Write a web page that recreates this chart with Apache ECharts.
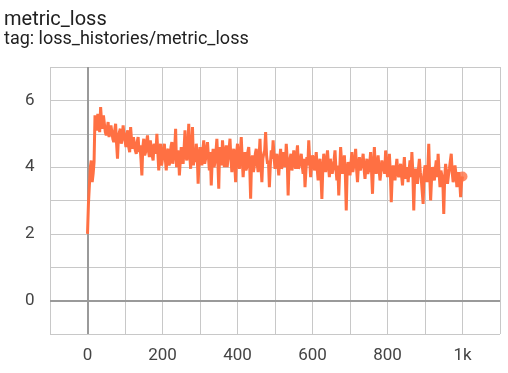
<!DOCTYPE html>
<html>
<head>
<meta charset="utf-8">
<script src="https://cdn.jsdelivr.net/npm/echarts@6/dist/echarts.min.js"></script>
<style>
html,body{margin:0;padding:0;background:#fff;}
#chart{width:508px;height:373px;}
</style>
</head>
<body>
<div id="chart"></div>
<script>
// Step spacing between recorded values
var stepSize = 5;
// Loss values at steps 0, 5, 10, ... 1000
var loss0 = [2.00, 3.45, 4.20, 3.80, 5.55, 5.10, 5.45, 5.80, 5.15, 5.50];
var loss1 = [4.95, 5.35, 4.85, 5.20, 4.75, 5.30, 4.25, 5.05, 4.70, 5.25,
             4.80, 5.00, 4.60, 5.20, 4.55, 4.95, 4.40, 4.90, 4.65, 3.75,
             4.85, 4.45, 4.95, 4.30, 4.75, 4.20, 4.60, 5.00, 3.90, 4.70, 4.25];
var loss2 = [4.70, 3.90, 4.55, 4.15, 4.75, 4.30, 5.15, 4.40, 3.75, 4.60,
             4.10, 5.10, 4.20, 5.30, 3.95, 5.20, 4.35, 4.70, 3.50, 4.60,
             4.05, 4.80, 4.25, 4.75, 3.90, 3.45, 4.55, 4.15, 4.85, 3.35,
             4.40, 4.80, 4.00, 4.65, 4.30, 4.85, 3.85, 4.55, 3.55, 4.70];
var loss3 = [3.95, 4.90, 3.70, 4.45, 4.00, 4.60, 3.05, 4.35, 4.05, 4.55,
             3.85, 4.85, 3.55, 4.40, 5.05, 4.10, 3.40, 4.50, 4.80, 3.95,
             4.40, 3.75, 4.55, 4.05, 4.35, 4.70, 3.15, 4.25, 3.90, 4.50,
             3.95, 4.65, 4.05, 4.40, 3.80, 3.40, 4.30, 4.80, 3.70, 4.35];
var loss4 = [3.90, 4.45, 3.60, 4.25, 3.05, 4.40, 3.85, 4.50, 3.70, 4.20,
             3.95, 4.50, 3.60, 3.15, 4.60, 3.80, 4.35, 2.70, 4.15, 3.75,
             4.45, 3.90, 4.55, 3.55, 4.30, 3.85, 4.40, 3.65, 4.25, 3.90,
             4.45, 3.20, 4.60, 3.80, 4.35, 3.60, 4.20, 3.95, 4.50, 3.70];
var loss5 = [4.40, 2.95, 4.05, 3.60, 4.25, 3.70, 4.10, 3.45, 4.30, 3.80,
             3.55, 4.20, 4.45, 2.70, 3.95, 3.50, 4.25, 3.65, 2.90, 4.05,
             3.55, 4.70, 3.00, 4.00, 3.60, 4.20, 4.40, 3.40, 3.85, 2.60,
             4.10, 3.50, 3.95, 4.40, 3.55, 4.05, 3.40, 3.85, 3.10, 3.72];
// Loss values at the in-between steps 2.5, 7.5, ... 997.5
var lossMid0 = [2.90, 4.00, 3.55, 4.15, 5.25, 5.60, 5.05, 5.35, 5.55, 5.05];
var lossMid1 = [5.15, 4.90, 5.25, 4.85, 5.10, 4.70, 4.90, 5.15, 4.85, 4.95,
                4.60, 5.10, 4.45, 4.80, 4.90, 4.50, 4.75, 4.45, 4.25, 4.60,
                4.35, 4.75, 4.50, 4.80, 4.35, 4.70, 4.40, 4.45, 4.55, 4.05, 4.50];
var lossMid2 = [4.25, 4.45, 4.05, 4.60, 4.10, 4.55, 4.00, 4.50, 4.20, 4.35,
                4.55, 4.30, 4.60, 4.40, 4.55, 4.05, 4.15, 4.40, 4.20, 4.30,
                4.50, 4.10, 4.55, 4.30, 4.45, 4.20, 4.00, 4.45, 4.20, 4.60,
                4.05, 4.35, 4.45, 4.00, 4.55, 4.25, 4.35, 4.10, 4.40, 4.15];
var lossMid3 = [4.40, 4.25, 4.15, 3.90, 4.45, 4.05, 4.20, 3.85, 4.40, 4.10,
                4.30, 4.05, 4.25, 4.50, 4.35, 4.20, 4.05, 4.25, 4.30, 4.15,
                4.35, 4.20, 3.95, 4.45, 4.00, 4.25, 4.10, 4.40, 4.10, 4.25,
                4.35, 3.95, 4.20, 4.05, 4.25, 3.90, 4.05, 4.20, 4.10, 4.25];
var lossMid4 = [4.15, 3.95, 4.10, 3.75, 3.95, 4.15, 3.90, 4.05, 4.25, 3.80,
                4.20, 3.95, 4.05, 3.90, 4.15, 4.00, 3.80, 3.95, 4.05, 4.10,
                3.85, 4.20, 3.95, 4.05, 3.90, 4.15, 3.95, 4.00, 3.80, 4.10,
                3.85, 4.05, 3.95, 4.10, 3.95, 3.85, 4.05, 3.80, 4.10, 3.95];
var lossMid5 = [3.85, 3.70, 3.90, 3.95, 3.80, 3.95, 3.75, 3.90, 3.65, 4.00,
                3.90, 3.70, 3.85, 3.75, 3.80, 3.95, 3.85, 3.70, 3.80, 3.95,
                3.90, 3.75, 3.65, 3.85, 3.95, 3.70, 3.85, 3.90, 3.60, 3.70,
                3.80, 3.75, 4.00, 3.85, 3.70, 3.80, 3.65, 3.60, 3.55];
// Axis ticks
var xTicks = [0, 200, 400, 600, 800, 1000];
var xTickLabels = ['0', '200', '400', '600', '800', '1k'];
var yTicks = [0, 2, 4, 6];

var loss = [].concat(loss0, loss1, loss2, loss3, loss4, loss5);
var lossMid = [].concat(lossMid0, lossMid1, lossMid2, lossMid3, lossMid4, lossMid5);
var data = [];
loss.forEach(function (v, i) {
  data.push([i * stepSize, v]);
  if (i < lossMid.length) data.push([i * stepSize + stepSize / 2, lossMid[i]]);
});
var last = data[data.length - 1];

var gridColor = '#c8c8c8';
var labelColor = '#444';
var font = 'Roboto, "Noto Sans", sans-serif';

var chart = echarts.init(document.getElementById('chart'), null, {renderer: 'canvas'});
chart.setOption({
  animation: false,
  backgroundColor: '#fff',
  title: [{
    text: 'metric_loss',
    left: 4, top: 9.5, padding: 0,
    textStyle: {fontFamily: font, fontSize: 20, fontWeight: 'normal', color: '#212121'}
  }, {
    text: 'tag: loss_histories/metric_loss',
    left: 4, top: 30, padding: 0,
    textStyle: {fontFamily: font, fontSize: 18, fontWeight: 'normal', color: '#212121'}
  }],
  grid: {left: 50, right: 8, top: 67, bottom: 39, containLabel: false},
  xAxis: {
    type: 'value', min: -100, max: 1100, interval: 100,
    axisLine: {show: false},
    axisTick: {show: true, length: 6, lineStyle: {color: gridColor}},
    splitLine: {show: true, lineStyle: {color: gridColor, width: 1}},
    axisLabel: {
      margin: 13, color: labelColor, fontFamily: font, fontSize: 17,
      formatter: function (v) {
        var k = xTicks.indexOf(v);
        return k >= 0 ? xTickLabels[k] : '';
      }
    }
  },
  yAxis: {
    type: 'value', min: -1, max: 7, interval: 1,
    axisLine: {show: false},
    axisTick: {show: true, length: 7, lineStyle: {color: gridColor}},
    splitLine: {show: true, lineStyle: {color: gridColor, width: 1}},
    axisLabel: {
      margin: 15.5, color: labelColor, fontFamily: font, fontSize: 17,
      formatter: function (v) { return yTicks.indexOf(v) >= 0 ? String(v) : ''; }
    }
  },
  series: [{
    type: 'line',
    data: data,
    showSymbol: false,
    lineStyle: {color: '#ff7043', width: 3},
    itemStyle: {color: '#ff7043'},
    markLine: {
      silent: true, symbol: 'none', label: {show: false},
      lineStyle: {color: '#9a9a9a', width: 2, type: 'solid'},
      data: [{xAxis: 0}, {yAxis: 0}],
      z: 1
    },
    z: 3
  }, {
    type: 'scatter',
    data: [last],
    symbolSize: 10,
    itemStyle: {color: '#ff7043'},
    z: 4
  }]
});
</script>
</body>
</html>
